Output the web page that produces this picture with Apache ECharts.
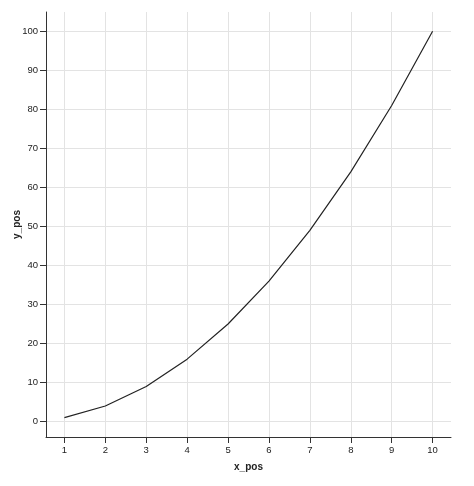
<!DOCTYPE html>
<html>
<head>
<meta charset="utf-8">
<script src="https://cdn.jsdelivr.net/npm/echarts@6/dist/echarts.min.js"></script>
<style>
html,body{margin:0;padding:0;background:#fff;}
#chart{width:474px;height:486px;}
</style>
</head>
<body>
<div id="chart"></div>
<script>
const xValues = [1, 2, 3, 4, 5, 6, 7, 8, 9, 10];
const yValues = [1, 4, 9, 16, 25, 36, 49, 64, 81, 100];
const xName = 'x_pos';
const yName = 'y_pos';

const chart = echarts.init(document.getElementById('chart'), null, {renderer: 'canvas'});
const font = 'Liberation Sans, Arial, Helvetica, sans-serif';
const axisColor = '#333';
const gridColor = '#e3e3e3';

chart.setOption({
  animation: false,
  backgroundColor: '#fff',
  grid: {left: 46, right: 23, top: 12, bottom: 49, containLabel: false, outerBoundsMode: 'none'},
  xAxis: {
    type: 'value',
    min: 0.55, max: 10.45,
    minInterval: 1, maxInterval: 1,
    name: xName,
    nameLocation: 'middle',
    nameGap: 25,
    nameMoveOverlap: false,
    nameTextStyle: {fontFamily: font, fontSize: 10, fontWeight: 'bold', color: '#222'},
    axisLine: {show: true, onZero: false, lineStyle: {color: axisColor, width: 1}},
    axisTick: {show: true, inside: false, length: 6, lineStyle: {color: axisColor, width: 1}},
    axisLabel: {showMinLabel: false, showMaxLabel: false, margin: 8, fontFamily: font, fontSize: 9.5, color: '#222'},
    splitLine: {show: true, showMinLine: false, showMaxLine: false, lineStyle: {color: gridColor, width: 1}}
  },
  yAxis: {
    type: 'value',
    min: -3.95, max: 104.95,
    minInterval: 10, maxInterval: 10,
    name: yName,
    nameLocation: 'middle',
    nameGap: 24,
    nameMoveOverlap: false,
    nameTextStyle: {fontFamily: font, fontSize: 10, fontWeight: 'bold', color: '#222'},
    axisLine: {show: true, onZero: false, lineStyle: {color: axisColor, width: 1}},
    axisTick: {show: true, inside: false, length: 6, lineStyle: {color: axisColor, width: 1}},
    axisLabel: {showMinLabel: false, showMaxLabel: false, margin: 8, fontFamily: font, fontSize: 9.5, color: '#222'},
    splitLine: {show: true, showMinLine: false, showMaxLine: false, lineStyle: {color: gridColor, width: 1}}
  },
  series: [{
    type: 'line',
    data: xValues.map((x, i) => [x, yValues[i]]),
    showSymbol: false,
    symbol: 'none',
    lineStyle: {color: '#222', width: 1.2},
    z: 5
  }]
});
</script>
</body>
</html>
